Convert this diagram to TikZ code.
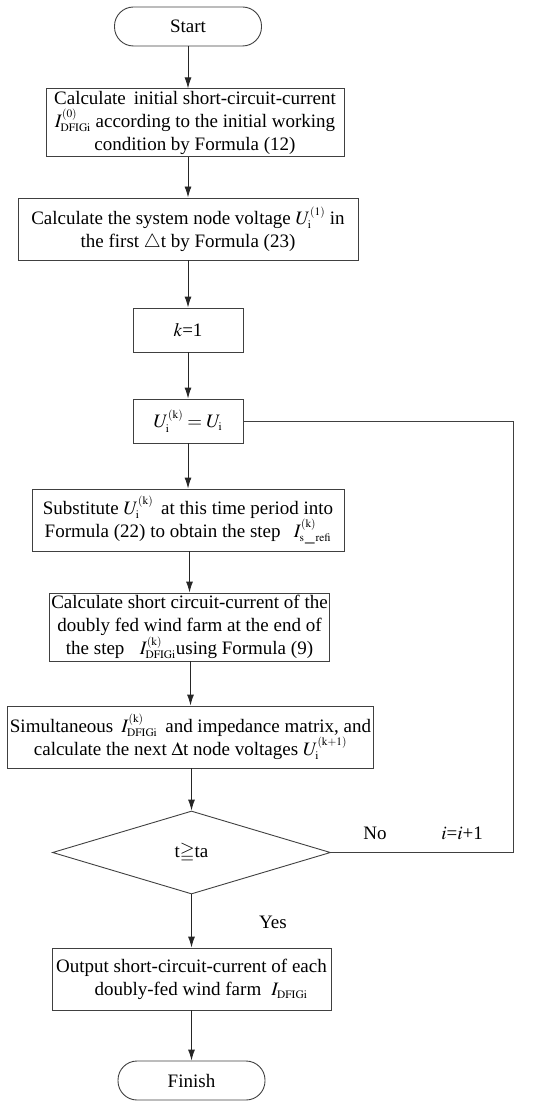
\documentclass[tikz,border=0pt]{standalone}
\usepackage{amssymb}
\usepackage{mathptmx}
\usepackage{fontspec}
\setmainfont{Liberation Serif}
\usetikzlibrary{shapes.geometric,arrows.meta}

\newcommand{\fq}[3]{#1^{\scriptscriptstyle(\mathrm{#2})}_{\scriptscriptstyle\mathrm{#3}}}

\tikzset{
  box/.style={draw=black!75, line width=0.9pt, align=center, inner sep=2pt},
  term/.style={box, rounded corners=19pt, minimum width=147pt, minimum height=39pt},
  decide/.style={box, diamond, inner sep=0pt, minimum width=278pt, minimum height=83pt},
  arr/.style={-{Latex[length=11pt,width=7pt]}, line width=0.9pt, black!85},
  link/.style={line width=0.9pt, black!75},
}

\begin{document}
\begin{tikzpicture}[x=1pt,y=-1pt,font=\fontsize{19}{23}\selectfont]
    \useasboundingbox (0,0) rectangle (550,1110);

    %steps
    \node[term] (start) at (188,26.5) {Start};
    \node[box, minimum width=298pt, minimum height=63pt] (init) at (195,122.5)
        {Calculate\, initial short-circuit-current\\ $\fq{I}{0}{DFIGi}$ according to the initial working\\ condition by Formula (12)};
    \node[box, minimum width=340pt, minimum height=62pt] (volt) at (188,229)
        {Calculate the system node voltage $\fq{U}{1}{i}$ in\\ the first $\triangle$t by Formula (23)};
    \node[box, minimum width=110pt, minimum height=44pt] (kone) at (188,330) {$k$=1};
    \node[box, minimum width=110pt, minimum height=44pt] (uset) at (188,421) {$\fq{U}{k}{i}=U_{\scriptscriptstyle\mathrm{i}}$};
    \node[box, minimum width=312pt, minimum height=62pt] (subst) at (188,520)
        {Substitute $\fq{U}{k}{i}$\, at this time period into\\ Formula (22) to obtain the step\;\, $\fq{I}{k}{s{\kern1pt\_\kern1pt}refi}$};
    \node[box, minimum width=279pt, minimum height=68pt] (dfig) at (189.5,627)
        {Calculate short circuit-current of the\\ doubly fed wind farm at the end of\\ the step\;\; $\fq{I}{k}{DFIGi}$using Formula (9)};
    \node[box, minimum width=355pt, minimum height=62pt] (simul) at (190.5,737)
        {Simultaneous\, $\fq{I}{k}{DFIGi}$\, and impedance matrix, and\\ calculate the next $\Delta$t node voltages $\fq{U}{k+1}{i}$};
    \node[decide] (check) at (191.5,852.5) {t$\geqq$ta};
    \node[box, minimum width=279pt, minimum height=62pt] (out) at (191.5,979)
        {Output short-circuit-current of each\\ \quad doubly-fed wind farm\; $I_{\scriptscriptstyle\mathrm{DFIGi}}$};
    \node[term] (finish) at (191.5,1080.5) {Finish};

    %labels
    \node (no) at (375,833) {No};
    \node (inc) at (462,833) {$i$=$i$+1};
    \node (yes) at (273,922) {Yes};

    %arrows
    \draw[arr] (start) -- (start |- init.north);
    \draw[arr] (init.south -| start) -- (start |- volt.north);
    \draw[arr] (volt) -- (kone);
    \draw[arr] (kone) -- (uset);
    \draw[arr] (uset) -- (subst);
    \draw[arr] (subst.south -| dfig) -- (dfig);
    \draw[arr] (dfig.south -| simul) -- (simul);
    \draw[arr] (simul.south -| check) -- (check);
    \draw[arr] (check) -- (out);
    \draw[arr] (out) -- (finish);

    %loop back
    \coordinate (turn) at (513,421);
    \draw[link] (check.east) -| (turn) -- (uset.east);
\end{tikzpicture}
\end{document}
